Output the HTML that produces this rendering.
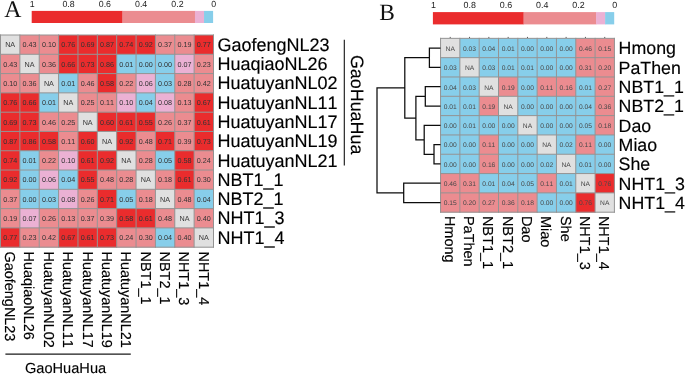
<!DOCTYPE html>
<html lang="en"><head><meta charset="utf-8"><title>Heatmaps A and B</title>
<style>
html,body{margin:0;padding:0;background:#fff}
body{width:685px;height:374px;overflow:hidden}
svg{display:block;font-family:"Liberation Sans", Arial, sans-serif;font-kerning:none;text-rendering:geometricPrecision}
</style></head><body>
<svg width="685" height="374" viewBox="0 0 685 374">
<rect width="685" height="374" fill="#fff"/>
<text x="4.3" y="17.4" font-family='"Liberation Serif", "Times New Roman", serif' font-size="23.8" fill="#111">A</text>
<rect x="31.70" y="10.9" width="91.00" height="12.1" fill="#ea2c2d"/>
<rect x="122.40" y="10.9" width="72.86" height="12.1" fill="#eb8c90"/>
<rect x="194.96" y="10.9" width="9.37" height="12.1" fill="#ebb1d4"/>
<rect x="204.03" y="10.9" width="9.07" height="12.1" fill="#87ceea"/>
<g font-size="8.8" fill="#222" text-anchor="middle">
<text x="32.30" y="6.7">1</text>
<text x="68.58" y="6.7">0.8</text>
<text x="104.86" y="6.7">0.6</text>
<text x="141.14" y="6.7">0.4</text>
<text x="177.42" y="6.7">0.2</text>
<text x="213.70" y="6.7">0</text>
</g>
<rect x="0.50" y="35.00" width="19.66" height="19.59" fill="#e0e0e0"/>
<rect x="19.86" y="35.00" width="19.66" height="19.59" fill="#eb8c90"/>
<rect x="39.23" y="35.00" width="19.66" height="19.59" fill="#eb8c90"/>
<rect x="58.59" y="35.00" width="19.66" height="19.59" fill="#ea2c2d"/>
<rect x="77.96" y="35.00" width="19.66" height="19.59" fill="#ea2c2d"/>
<rect x="97.32" y="35.00" width="19.66" height="19.59" fill="#ea2c2d"/>
<rect x="116.68" y="35.00" width="19.66" height="19.59" fill="#ea2c2d"/>
<rect x="136.05" y="35.00" width="19.66" height="19.59" fill="#ea2c2d"/>
<rect x="155.41" y="35.00" width="19.66" height="19.59" fill="#eb8c90"/>
<rect x="174.78" y="35.00" width="19.66" height="19.59" fill="#eb8c90"/>
<rect x="194.14" y="35.00" width="19.66" height="19.59" fill="#ea2c2d"/>
<rect x="0.50" y="54.29" width="19.66" height="19.59" fill="#eb8c90"/>
<rect x="19.86" y="54.29" width="19.66" height="19.59" fill="#e0e0e0"/>
<rect x="39.23" y="54.29" width="19.66" height="19.59" fill="#eb8c90"/>
<rect x="58.59" y="54.29" width="19.66" height="19.59" fill="#ea2c2d"/>
<rect x="77.96" y="54.29" width="19.66" height="19.59" fill="#ea2c2d"/>
<rect x="97.32" y="54.29" width="19.66" height="19.59" fill="#ea2c2d"/>
<rect x="116.68" y="54.29" width="19.66" height="19.59" fill="#87ceea"/>
<rect x="136.05" y="54.29" width="19.66" height="19.59" fill="#87ceea"/>
<rect x="155.41" y="54.29" width="19.66" height="19.59" fill="#87ceea"/>
<rect x="174.78" y="54.29" width="19.66" height="19.59" fill="#ebb1d4"/>
<rect x="194.14" y="54.29" width="19.66" height="19.59" fill="#eb8c90"/>
<rect x="0.50" y="73.58" width="19.66" height="19.59" fill="#eb8c90"/>
<rect x="19.86" y="73.58" width="19.66" height="19.59" fill="#eb8c90"/>
<rect x="39.23" y="73.58" width="19.66" height="19.59" fill="#e0e0e0"/>
<rect x="58.59" y="73.58" width="19.66" height="19.59" fill="#87ceea"/>
<rect x="77.96" y="73.58" width="19.66" height="19.59" fill="#eb8c90"/>
<rect x="97.32" y="73.58" width="19.66" height="19.59" fill="#ea2c2d"/>
<rect x="116.68" y="73.58" width="19.66" height="19.59" fill="#eb8c90"/>
<rect x="136.05" y="73.58" width="19.66" height="19.59" fill="#ebb1d4"/>
<rect x="155.41" y="73.58" width="19.66" height="19.59" fill="#87ceea"/>
<rect x="174.78" y="73.58" width="19.66" height="19.59" fill="#eb8c90"/>
<rect x="194.14" y="73.58" width="19.66" height="19.59" fill="#eb8c90"/>
<rect x="0.50" y="92.87" width="19.66" height="19.59" fill="#ea2c2d"/>
<rect x="19.86" y="92.87" width="19.66" height="19.59" fill="#ea2c2d"/>
<rect x="39.23" y="92.87" width="19.66" height="19.59" fill="#87ceea"/>
<rect x="58.59" y="92.87" width="19.66" height="19.59" fill="#e0e0e0"/>
<rect x="77.96" y="92.87" width="19.66" height="19.59" fill="#eb8c90"/>
<rect x="97.32" y="92.87" width="19.66" height="19.59" fill="#eb8c90"/>
<rect x="116.68" y="92.87" width="19.66" height="19.59" fill="#ebb1d4"/>
<rect x="136.05" y="92.87" width="19.66" height="19.59" fill="#87ceea"/>
<rect x="155.41" y="92.87" width="19.66" height="19.59" fill="#ebb1d4"/>
<rect x="174.78" y="92.87" width="19.66" height="19.59" fill="#eb8c90"/>
<rect x="194.14" y="92.87" width="19.66" height="19.59" fill="#ea2c2d"/>
<rect x="0.50" y="112.16" width="19.66" height="19.59" fill="#ea2c2d"/>
<rect x="19.86" y="112.16" width="19.66" height="19.59" fill="#ea2c2d"/>
<rect x="39.23" y="112.16" width="19.66" height="19.59" fill="#eb8c90"/>
<rect x="58.59" y="112.16" width="19.66" height="19.59" fill="#eb8c90"/>
<rect x="77.96" y="112.16" width="19.66" height="19.59" fill="#e0e0e0"/>
<rect x="97.32" y="112.16" width="19.66" height="19.59" fill="#ea2c2d"/>
<rect x="116.68" y="112.16" width="19.66" height="19.59" fill="#ea2c2d"/>
<rect x="136.05" y="112.16" width="19.66" height="19.59" fill="#ea2c2d"/>
<rect x="155.41" y="112.16" width="19.66" height="19.59" fill="#eb8c90"/>
<rect x="174.78" y="112.16" width="19.66" height="19.59" fill="#eb8c90"/>
<rect x="194.14" y="112.16" width="19.66" height="19.59" fill="#ea2c2d"/>
<rect x="0.50" y="131.45" width="19.66" height="19.59" fill="#ea2c2d"/>
<rect x="19.86" y="131.45" width="19.66" height="19.59" fill="#ea2c2d"/>
<rect x="39.23" y="131.45" width="19.66" height="19.59" fill="#ea2c2d"/>
<rect x="58.59" y="131.45" width="19.66" height="19.59" fill="#eb8c90"/>
<rect x="77.96" y="131.45" width="19.66" height="19.59" fill="#ea2c2d"/>
<rect x="97.32" y="131.45" width="19.66" height="19.59" fill="#e0e0e0"/>
<rect x="116.68" y="131.45" width="19.66" height="19.59" fill="#ea2c2d"/>
<rect x="136.05" y="131.45" width="19.66" height="19.59" fill="#eb8c90"/>
<rect x="155.41" y="131.45" width="19.66" height="19.59" fill="#ea2c2d"/>
<rect x="174.78" y="131.45" width="19.66" height="19.59" fill="#eb8c90"/>
<rect x="194.14" y="131.45" width="19.66" height="19.59" fill="#ea2c2d"/>
<rect x="0.50" y="150.74" width="19.66" height="19.59" fill="#ea2c2d"/>
<rect x="19.86" y="150.74" width="19.66" height="19.59" fill="#87ceea"/>
<rect x="39.23" y="150.74" width="19.66" height="19.59" fill="#eb8c90"/>
<rect x="58.59" y="150.74" width="19.66" height="19.59" fill="#ebb1d4"/>
<rect x="77.96" y="150.74" width="19.66" height="19.59" fill="#ea2c2d"/>
<rect x="97.32" y="150.74" width="19.66" height="19.59" fill="#ea2c2d"/>
<rect x="116.68" y="150.74" width="19.66" height="19.59" fill="#e0e0e0"/>
<rect x="136.05" y="150.74" width="19.66" height="19.59" fill="#eb8c90"/>
<rect x="155.41" y="150.74" width="19.66" height="19.59" fill="#87ceea"/>
<rect x="174.78" y="150.74" width="19.66" height="19.59" fill="#ea2c2d"/>
<rect x="194.14" y="150.74" width="19.66" height="19.59" fill="#eb8c90"/>
<rect x="0.50" y="170.03" width="19.66" height="19.59" fill="#ea2c2d"/>
<rect x="19.86" y="170.03" width="19.66" height="19.59" fill="#87ceea"/>
<rect x="39.23" y="170.03" width="19.66" height="19.59" fill="#ebb1d4"/>
<rect x="58.59" y="170.03" width="19.66" height="19.59" fill="#87ceea"/>
<rect x="77.96" y="170.03" width="19.66" height="19.59" fill="#ea2c2d"/>
<rect x="97.32" y="170.03" width="19.66" height="19.59" fill="#eb8c90"/>
<rect x="116.68" y="170.03" width="19.66" height="19.59" fill="#eb8c90"/>
<rect x="136.05" y="170.03" width="19.66" height="19.59" fill="#e0e0e0"/>
<rect x="155.41" y="170.03" width="19.66" height="19.59" fill="#eb8c90"/>
<rect x="174.78" y="170.03" width="19.66" height="19.59" fill="#ea2c2d"/>
<rect x="194.14" y="170.03" width="19.66" height="19.59" fill="#eb8c90"/>
<rect x="0.50" y="189.32" width="19.66" height="19.59" fill="#eb8c90"/>
<rect x="19.86" y="189.32" width="19.66" height="19.59" fill="#87ceea"/>
<rect x="39.23" y="189.32" width="19.66" height="19.59" fill="#87ceea"/>
<rect x="58.59" y="189.32" width="19.66" height="19.59" fill="#ebb1d4"/>
<rect x="77.96" y="189.32" width="19.66" height="19.59" fill="#eb8c90"/>
<rect x="97.32" y="189.32" width="19.66" height="19.59" fill="#ea2c2d"/>
<rect x="116.68" y="189.32" width="19.66" height="19.59" fill="#87ceea"/>
<rect x="136.05" y="189.32" width="19.66" height="19.59" fill="#eb8c90"/>
<rect x="155.41" y="189.32" width="19.66" height="19.59" fill="#e0e0e0"/>
<rect x="174.78" y="189.32" width="19.66" height="19.59" fill="#eb8c90"/>
<rect x="194.14" y="189.32" width="19.66" height="19.59" fill="#87ceea"/>
<rect x="0.50" y="208.61" width="19.66" height="19.59" fill="#eb8c90"/>
<rect x="19.86" y="208.61" width="19.66" height="19.59" fill="#ebb1d4"/>
<rect x="39.23" y="208.61" width="19.66" height="19.59" fill="#eb8c90"/>
<rect x="58.59" y="208.61" width="19.66" height="19.59" fill="#eb8c90"/>
<rect x="77.96" y="208.61" width="19.66" height="19.59" fill="#eb8c90"/>
<rect x="97.32" y="208.61" width="19.66" height="19.59" fill="#eb8c90"/>
<rect x="116.68" y="208.61" width="19.66" height="19.59" fill="#ea2c2d"/>
<rect x="136.05" y="208.61" width="19.66" height="19.59" fill="#ea2c2d"/>
<rect x="155.41" y="208.61" width="19.66" height="19.59" fill="#eb8c90"/>
<rect x="174.78" y="208.61" width="19.66" height="19.59" fill="#e0e0e0"/>
<rect x="194.14" y="208.61" width="19.66" height="19.59" fill="#eb8c90"/>
<rect x="0.50" y="227.90" width="19.66" height="19.59" fill="#ea2c2d"/>
<rect x="19.86" y="227.90" width="19.66" height="19.59" fill="#eb8c90"/>
<rect x="39.23" y="227.90" width="19.66" height="19.59" fill="#eb8c90"/>
<rect x="58.59" y="227.90" width="19.66" height="19.59" fill="#ea2c2d"/>
<rect x="77.96" y="227.90" width="19.66" height="19.59" fill="#ea2c2d"/>
<rect x="97.32" y="227.90" width="19.66" height="19.59" fill="#ea2c2d"/>
<rect x="116.68" y="227.90" width="19.66" height="19.59" fill="#eb8c90"/>
<rect x="136.05" y="227.90" width="19.66" height="19.59" fill="#eb8c90"/>
<rect x="155.41" y="227.90" width="19.66" height="19.59" fill="#87ceea"/>
<rect x="174.78" y="227.90" width="19.66" height="19.59" fill="#eb8c90"/>
<rect x="194.14" y="227.90" width="19.66" height="19.59" fill="#e0e0e0"/>
<path d="M0.50 34.50V247.69M0.00 35.00H214.00M19.86 34.50V247.69M0.00 54.29H214.00M39.23 34.50V247.69M0.00 73.58H214.00M58.59 34.50V247.69M0.00 92.87H214.00M77.96 34.50V247.69M0.00 112.16H214.00M97.32 34.50V247.69M0.00 131.45H214.00M116.68 34.50V247.69M0.00 150.74H214.00M136.05 34.50V247.69M0.00 170.03H214.00M155.41 34.50V247.69M0.00 189.32H214.00M174.78 34.50V247.69M0.00 208.61H214.00M194.14 34.50V247.69M0.00 227.90H214.00M213.50 34.50V247.69M0.00 247.19H214.00" fill="none" stroke="#939393" stroke-width="1.0"/>
<g font-size="7.2" fill="#343434" text-anchor="middle">
<text x="10.18" y="47.34">NA</text>
<text x="29.55" y="47.34">0.43</text>
<text x="48.91" y="47.34">0.10</text>
<text x="68.27" y="47.34">0.76</text>
<text x="87.64" y="47.34">0.69</text>
<text x="107.00" y="47.34">0.87</text>
<text x="126.37" y="47.34">0.74</text>
<text x="145.73" y="47.34">0.92</text>
<text x="165.09" y="47.34">0.37</text>
<text x="184.46" y="47.34">0.19</text>
<text x="203.82" y="47.34">0.77</text>
<text x="10.18" y="66.63">0.43</text>
<text x="29.55" y="66.63">NA</text>
<text x="48.91" y="66.63">0.36</text>
<text x="68.27" y="66.63">0.66</text>
<text x="87.64" y="66.63">0.73</text>
<text x="107.00" y="66.63">0.86</text>
<text x="126.37" y="66.63">0.01</text>
<text x="145.73" y="66.63">0.00</text>
<text x="165.09" y="66.63">0.00</text>
<text x="184.46" y="66.63">0.07</text>
<text x="203.82" y="66.63">0.23</text>
<text x="10.18" y="85.92">0.10</text>
<text x="29.55" y="85.92">0.36</text>
<text x="48.91" y="85.92">NA</text>
<text x="68.27" y="85.92">0.01</text>
<text x="87.64" y="85.92">0.46</text>
<text x="107.00" y="85.92">0.58</text>
<text x="126.37" y="85.92">0.22</text>
<text x="145.73" y="85.92">0.06</text>
<text x="165.09" y="85.92">0.03</text>
<text x="184.46" y="85.92">0.28</text>
<text x="203.82" y="85.92">0.42</text>
<text x="10.18" y="105.21">0.76</text>
<text x="29.55" y="105.21">0.66</text>
<text x="48.91" y="105.21">0.01</text>
<text x="68.27" y="105.21">NA</text>
<text x="87.64" y="105.21">0.25</text>
<text x="107.00" y="105.21">0.11</text>
<text x="126.37" y="105.21">0.10</text>
<text x="145.73" y="105.21">0.04</text>
<text x="165.09" y="105.21">0.08</text>
<text x="184.46" y="105.21">0.13</text>
<text x="203.82" y="105.21">0.67</text>
<text x="10.18" y="124.50">0.69</text>
<text x="29.55" y="124.50">0.73</text>
<text x="48.91" y="124.50">0.46</text>
<text x="68.27" y="124.50">0.25</text>
<text x="87.64" y="124.50">NA</text>
<text x="107.00" y="124.50">0.60</text>
<text x="126.37" y="124.50">0.61</text>
<text x="145.73" y="124.50">0.55</text>
<text x="165.09" y="124.50">0.26</text>
<text x="184.46" y="124.50">0.37</text>
<text x="203.82" y="124.50">0.61</text>
<text x="10.18" y="143.79">0.87</text>
<text x="29.55" y="143.79">0.86</text>
<text x="48.91" y="143.79">0.58</text>
<text x="68.27" y="143.79">0.11</text>
<text x="87.64" y="143.79">0.60</text>
<text x="107.00" y="143.79">NA</text>
<text x="126.37" y="143.79">0.92</text>
<text x="145.73" y="143.79">0.48</text>
<text x="165.09" y="143.79">0.71</text>
<text x="184.46" y="143.79">0.39</text>
<text x="203.82" y="143.79">0.73</text>
<text x="10.18" y="163.08">0.74</text>
<text x="29.55" y="163.08">0.01</text>
<text x="48.91" y="163.08">0.22</text>
<text x="68.27" y="163.08">0.10</text>
<text x="87.64" y="163.08">0.61</text>
<text x="107.00" y="163.08">0.92</text>
<text x="126.37" y="163.08">NA</text>
<text x="145.73" y="163.08">0.28</text>
<text x="165.09" y="163.08">0.05</text>
<text x="184.46" y="163.08">0.58</text>
<text x="203.82" y="163.08">0.24</text>
<text x="10.18" y="182.37">0.92</text>
<text x="29.55" y="182.37">0.00</text>
<text x="48.91" y="182.37">0.06</text>
<text x="68.27" y="182.37">0.04</text>
<text x="87.64" y="182.37">0.55</text>
<text x="107.00" y="182.37">0.48</text>
<text x="126.37" y="182.37">0.28</text>
<text x="145.73" y="182.37">NA</text>
<text x="165.09" y="182.37">0.18</text>
<text x="184.46" y="182.37">0.61</text>
<text x="203.82" y="182.37">0.30</text>
<text x="10.18" y="201.66">0.37</text>
<text x="29.55" y="201.66">0.00</text>
<text x="48.91" y="201.66">0.03</text>
<text x="68.27" y="201.66">0.08</text>
<text x="87.64" y="201.66">0.26</text>
<text x="107.00" y="201.66">0.71</text>
<text x="126.37" y="201.66">0.05</text>
<text x="145.73" y="201.66">0.18</text>
<text x="165.09" y="201.66">NA</text>
<text x="184.46" y="201.66">0.48</text>
<text x="203.82" y="201.66">0.04</text>
<text x="10.18" y="220.95">0.19</text>
<text x="29.55" y="220.95">0.07</text>
<text x="48.91" y="220.95">0.26</text>
<text x="68.27" y="220.95">0.13</text>
<text x="87.64" y="220.95">0.37</text>
<text x="107.00" y="220.95">0.39</text>
<text x="126.37" y="220.95">0.58</text>
<text x="145.73" y="220.95">0.61</text>
<text x="165.09" y="220.95">0.48</text>
<text x="184.46" y="220.95">NA</text>
<text x="203.82" y="220.95">0.40</text>
<text x="10.18" y="240.24">0.77</text>
<text x="29.55" y="240.24">0.23</text>
<text x="48.91" y="240.24">0.42</text>
<text x="68.27" y="240.24">0.67</text>
<text x="87.64" y="240.24">0.61</text>
<text x="107.00" y="240.24">0.73</text>
<text x="126.37" y="240.24">0.24</text>
<text x="145.73" y="240.24">0.30</text>
<text x="165.09" y="240.24">0.04</text>
<text x="184.46" y="240.24">0.40</text>
<text x="203.82" y="240.24">NA</text>
</g>
<g font-size="18" fill="#000" stroke="#000" stroke-width="0.15">
<text x="217.4" y="50.79">GaofengNL23</text>
<text x="217.4" y="70.09">HuaqiaoNL26</text>
<text x="217.4" y="89.38">HuatuyanNL02</text>
<text x="217.4" y="108.67">HuatuyanNL11</text>
<text x="217.4" y="127.95">HuatuyanNL17</text>
<text x="217.4" y="147.25">HuatuyanNL19</text>
<text x="217.4" y="166.53">HuatuyanNL21</text>
<text x="217.4" y="185.82">NBT1_1</text>
<text x="217.4" y="205.12">NBT2_1</text>
<text x="217.4" y="224.41">NHT1_3</text>
<text x="217.4" y="243.69">NHT1_4</text>
</g>
<g font-size="14.45" fill="#000" stroke="#000" stroke-width="0.15">
<text transform="translate(5.08 251.5) rotate(90)">GaofengNL23</text>
<text transform="translate(24.45 251.5) rotate(90)">HuaqiaoNL26</text>
<text transform="translate(43.81 251.5) rotate(90)">HuatuyanNL02</text>
<text transform="translate(63.17 251.5) rotate(90)">HuatuyanNL11</text>
<text transform="translate(82.54 251.5) rotate(90)">HuatuyanNL17</text>
<text transform="translate(101.90 251.5) rotate(90)">HuatuyanNL19</text>
<text transform="translate(121.27 251.5) rotate(90)">HuatuyanNL21</text>
<text transform="translate(140.63 251.5) rotate(90)">NBT1_1</text>
<text transform="translate(159.99 251.5) rotate(90)">NBT2_1</text>
<text transform="translate(179.36 251.5) rotate(90)">NHT1_3</text>
<text transform="translate(198.72 251.5) rotate(90)">NHT1_4</text>
</g>
<line x1="5.4" y1="354.1" x2="130.8" y2="354.1" stroke="#1a1a1a" stroke-width="1.4"/>
<text x="25" y="372.8" font-size="14.6" fill="#000" stroke="#000" stroke-width="0.12">GaoHuaHua</text>
<line x1="344.3" y1="39.8" x2="344.3" y2="165.5" stroke="#111" stroke-width="1.1"/>
<text transform="translate(350.8 54.9) rotate(90)" font-size="17.9" fill="#000" stroke="#000" stroke-width="0.15">GaoHuaHua</text>
<text x="379.3" y="19.7" font-family='"Liberation Serif", "Times New Roman", serif' font-size="23.4" fill="#111">B</text>
<rect x="432.90" y="12.1" width="90.95" height="12.299999999999999" fill="#ea2c2d"/>
<rect x="523.55" y="12.1" width="72.82" height="12.299999999999999" fill="#eb8c90"/>
<rect x="596.07" y="12.1" width="9.36" height="12.299999999999999" fill="#ebb1d4"/>
<rect x="605.13" y="12.1" width="9.07" height="12.299999999999999" fill="#87ceea"/>
<g font-size="8.9" fill="#222" text-anchor="middle">
<text x="433.50" y="7.8">1</text>
<text x="469.76" y="7.8">0.8</text>
<text x="506.02" y="7.8">0.6</text>
<text x="542.28" y="7.8">0.4</text>
<text x="578.54" y="7.8">0.2</text>
<text x="614.80" y="7.8">0</text>
</g>
<rect x="449.71" y="36.9" width="1" height="1.2" fill="#555"/>
<rect x="469.03" y="36.9" width="1" height="1.2" fill="#555"/>
<rect x="488.34" y="36.9" width="1" height="1.2" fill="#555"/>
<rect x="507.66" y="36.9" width="1" height="1.2" fill="#555"/>
<rect x="526.98" y="36.9" width="1" height="1.2" fill="#555"/>
<rect x="546.29" y="36.9" width="1" height="1.2" fill="#555"/>
<rect x="565.61" y="36.9" width="1" height="1.2" fill="#555"/>
<rect x="584.93" y="36.9" width="1" height="1.2" fill="#555"/>
<rect x="604.24" y="36.9" width="1" height="1.2" fill="#555"/>
<rect x="440.55" y="38.35" width="19.62" height="19.62" fill="#e0e0e0"/>
<rect x="459.87" y="38.35" width="19.62" height="19.62" fill="#87ceea"/>
<rect x="479.18" y="38.35" width="19.62" height="19.62" fill="#87ceea"/>
<rect x="498.50" y="38.35" width="19.62" height="19.62" fill="#87ceea"/>
<rect x="517.82" y="38.35" width="19.62" height="19.62" fill="#87ceea"/>
<rect x="537.13" y="38.35" width="19.62" height="19.62" fill="#87ceea"/>
<rect x="556.45" y="38.35" width="19.62" height="19.62" fill="#87ceea"/>
<rect x="575.77" y="38.35" width="19.62" height="19.62" fill="#eb8c90"/>
<rect x="595.09" y="38.35" width="19.62" height="19.62" fill="#eb8c90"/>
<rect x="440.55" y="57.67" width="19.62" height="19.62" fill="#87ceea"/>
<rect x="459.87" y="57.67" width="19.62" height="19.62" fill="#e0e0e0"/>
<rect x="479.18" y="57.67" width="19.62" height="19.62" fill="#87ceea"/>
<rect x="498.50" y="57.67" width="19.62" height="19.62" fill="#87ceea"/>
<rect x="517.82" y="57.67" width="19.62" height="19.62" fill="#87ceea"/>
<rect x="537.13" y="57.67" width="19.62" height="19.62" fill="#87ceea"/>
<rect x="556.45" y="57.67" width="19.62" height="19.62" fill="#87ceea"/>
<rect x="575.77" y="57.67" width="19.62" height="19.62" fill="#eb8c90"/>
<rect x="595.09" y="57.67" width="19.62" height="19.62" fill="#eb8c90"/>
<rect x="440.55" y="76.98" width="19.62" height="19.62" fill="#87ceea"/>
<rect x="459.87" y="76.98" width="19.62" height="19.62" fill="#87ceea"/>
<rect x="479.18" y="76.98" width="19.62" height="19.62" fill="#e0e0e0"/>
<rect x="498.50" y="76.98" width="19.62" height="19.62" fill="#eb8c90"/>
<rect x="517.82" y="76.98" width="19.62" height="19.62" fill="#87ceea"/>
<rect x="537.13" y="76.98" width="19.62" height="19.62" fill="#eb8c90"/>
<rect x="556.45" y="76.98" width="19.62" height="19.62" fill="#eb8c90"/>
<rect x="575.77" y="76.98" width="19.62" height="19.62" fill="#87ceea"/>
<rect x="595.09" y="76.98" width="19.62" height="19.62" fill="#eb8c90"/>
<rect x="440.55" y="96.30" width="19.62" height="19.62" fill="#87ceea"/>
<rect x="459.87" y="96.30" width="19.62" height="19.62" fill="#87ceea"/>
<rect x="479.18" y="96.30" width="19.62" height="19.62" fill="#eb8c90"/>
<rect x="498.50" y="96.30" width="19.62" height="19.62" fill="#e0e0e0"/>
<rect x="517.82" y="96.30" width="19.62" height="19.62" fill="#87ceea"/>
<rect x="537.13" y="96.30" width="19.62" height="19.62" fill="#87ceea"/>
<rect x="556.45" y="96.30" width="19.62" height="19.62" fill="#87ceea"/>
<rect x="575.77" y="96.30" width="19.62" height="19.62" fill="#87ceea"/>
<rect x="595.09" y="96.30" width="19.62" height="19.62" fill="#eb8c90"/>
<rect x="440.55" y="115.62" width="19.62" height="19.62" fill="#87ceea"/>
<rect x="459.87" y="115.62" width="19.62" height="19.62" fill="#87ceea"/>
<rect x="479.18" y="115.62" width="19.62" height="19.62" fill="#87ceea"/>
<rect x="498.50" y="115.62" width="19.62" height="19.62" fill="#87ceea"/>
<rect x="517.82" y="115.62" width="19.62" height="19.62" fill="#e0e0e0"/>
<rect x="537.13" y="115.62" width="19.62" height="19.62" fill="#87ceea"/>
<rect x="556.45" y="115.62" width="19.62" height="19.62" fill="#87ceea"/>
<rect x="575.77" y="115.62" width="19.62" height="19.62" fill="#87ceea"/>
<rect x="595.09" y="115.62" width="19.62" height="19.62" fill="#eb8c90"/>
<rect x="440.55" y="134.94" width="19.62" height="19.62" fill="#87ceea"/>
<rect x="459.87" y="134.94" width="19.62" height="19.62" fill="#87ceea"/>
<rect x="479.18" y="134.94" width="19.62" height="19.62" fill="#eb8c90"/>
<rect x="498.50" y="134.94" width="19.62" height="19.62" fill="#87ceea"/>
<rect x="517.82" y="134.94" width="19.62" height="19.62" fill="#87ceea"/>
<rect x="537.13" y="134.94" width="19.62" height="19.62" fill="#e0e0e0"/>
<rect x="556.45" y="134.94" width="19.62" height="19.62" fill="#87ceea"/>
<rect x="575.77" y="134.94" width="19.62" height="19.62" fill="#eb8c90"/>
<rect x="595.09" y="134.94" width="19.62" height="19.62" fill="#87ceea"/>
<rect x="440.55" y="154.25" width="19.62" height="19.62" fill="#87ceea"/>
<rect x="459.87" y="154.25" width="19.62" height="19.62" fill="#87ceea"/>
<rect x="479.18" y="154.25" width="19.62" height="19.62" fill="#eb8c90"/>
<rect x="498.50" y="154.25" width="19.62" height="19.62" fill="#87ceea"/>
<rect x="517.82" y="154.25" width="19.62" height="19.62" fill="#87ceea"/>
<rect x="537.13" y="154.25" width="19.62" height="19.62" fill="#87ceea"/>
<rect x="556.45" y="154.25" width="19.62" height="19.62" fill="#e0e0e0"/>
<rect x="575.77" y="154.25" width="19.62" height="19.62" fill="#87ceea"/>
<rect x="595.09" y="154.25" width="19.62" height="19.62" fill="#87ceea"/>
<rect x="440.55" y="173.57" width="19.62" height="19.62" fill="#eb8c90"/>
<rect x="459.87" y="173.57" width="19.62" height="19.62" fill="#eb8c90"/>
<rect x="479.18" y="173.57" width="19.62" height="19.62" fill="#87ceea"/>
<rect x="498.50" y="173.57" width="19.62" height="19.62" fill="#87ceea"/>
<rect x="517.82" y="173.57" width="19.62" height="19.62" fill="#87ceea"/>
<rect x="537.13" y="173.57" width="19.62" height="19.62" fill="#eb8c90"/>
<rect x="556.45" y="173.57" width="19.62" height="19.62" fill="#87ceea"/>
<rect x="575.77" y="173.57" width="19.62" height="19.62" fill="#e0e0e0"/>
<rect x="595.09" y="173.57" width="19.62" height="19.62" fill="#ea2c2d"/>
<rect x="440.55" y="192.89" width="19.62" height="19.62" fill="#eb8c90"/>
<rect x="459.87" y="192.89" width="19.62" height="19.62" fill="#eb8c90"/>
<rect x="479.18" y="192.89" width="19.62" height="19.62" fill="#eb8c90"/>
<rect x="498.50" y="192.89" width="19.62" height="19.62" fill="#eb8c90"/>
<rect x="517.82" y="192.89" width="19.62" height="19.62" fill="#eb8c90"/>
<rect x="537.13" y="192.89" width="19.62" height="19.62" fill="#87ceea"/>
<rect x="556.45" y="192.89" width="19.62" height="19.62" fill="#87ceea"/>
<rect x="575.77" y="192.89" width="19.62" height="19.62" fill="#ea2c2d"/>
<rect x="595.09" y="192.89" width="19.62" height="19.62" fill="#e0e0e0"/>
<path d="M440.55 37.85V212.70M440.05 38.35H614.90M459.87 37.85V212.70M440.05 57.67H614.90M479.18 37.85V212.70M440.05 76.98H614.90M498.50 37.85V212.70M440.05 96.30H614.90M517.82 37.85V212.70M440.05 115.62H614.90M537.13 37.85V212.70M440.05 134.94H614.90M556.45 37.85V212.70M440.05 154.25H614.90M575.77 37.85V212.70M440.05 173.57H614.90M595.09 37.85V212.70M440.05 192.89H614.90M614.40 37.85V212.70M440.05 212.20H614.90" fill="none" stroke="#939393" stroke-width="1.0"/>
<g font-size="6.7" fill="#484848" text-anchor="middle">
<text x="450.21" y="50.87">NA</text>
<text x="469.53" y="50.87">0.03</text>
<text x="488.84" y="50.87">0.04</text>
<text x="508.16" y="50.87">0.01</text>
<text x="527.48" y="50.87">0.00</text>
<text x="546.79" y="50.87">0.00</text>
<text x="566.11" y="50.87">0.00</text>
<text x="585.43" y="50.87">0.46</text>
<text x="604.74" y="50.87">0.15</text>
<text x="450.21" y="70.19">0.03</text>
<text x="469.53" y="70.19">NA</text>
<text x="488.84" y="70.19">0.03</text>
<text x="508.16" y="70.19">0.01</text>
<text x="527.48" y="70.19">0.01</text>
<text x="546.79" y="70.19">0.00</text>
<text x="566.11" y="70.19">0.00</text>
<text x="585.43" y="70.19">0.31</text>
<text x="604.74" y="70.19">0.20</text>
<text x="450.21" y="89.50">0.04</text>
<text x="469.53" y="89.50">0.03</text>
<text x="488.84" y="89.50">NA</text>
<text x="508.16" y="89.50">0.19</text>
<text x="527.48" y="89.50">0.00</text>
<text x="546.79" y="89.50">0.11</text>
<text x="566.11" y="89.50">0.16</text>
<text x="585.43" y="89.50">0.01</text>
<text x="604.74" y="89.50">0.27</text>
<text x="450.21" y="108.82">0.01</text>
<text x="469.53" y="108.82">0.01</text>
<text x="488.84" y="108.82">0.19</text>
<text x="508.16" y="108.82">NA</text>
<text x="527.48" y="108.82">0.00</text>
<text x="546.79" y="108.82">0.00</text>
<text x="566.11" y="108.82">0.00</text>
<text x="585.43" y="108.82">0.04</text>
<text x="604.74" y="108.82">0.36</text>
<text x="450.21" y="128.14">0.00</text>
<text x="469.53" y="128.14">0.01</text>
<text x="488.84" y="128.14">0.00</text>
<text x="508.16" y="128.14">0.00</text>
<text x="527.48" y="128.14">NA</text>
<text x="546.79" y="128.14">0.00</text>
<text x="566.11" y="128.14">0.00</text>
<text x="585.43" y="128.14">0.05</text>
<text x="604.74" y="128.14">0.18</text>
<text x="450.21" y="147.46">0.00</text>
<text x="469.53" y="147.46">0.00</text>
<text x="488.84" y="147.46">0.11</text>
<text x="508.16" y="147.46">0.00</text>
<text x="527.48" y="147.46">0.00</text>
<text x="546.79" y="147.46">NA</text>
<text x="566.11" y="147.46">0.02</text>
<text x="585.43" y="147.46">0.11</text>
<text x="604.74" y="147.46">0.00</text>
<text x="450.21" y="166.77">0.00</text>
<text x="469.53" y="166.77">0.00</text>
<text x="488.84" y="166.77">0.16</text>
<text x="508.16" y="166.77">0.00</text>
<text x="527.48" y="166.77">0.00</text>
<text x="546.79" y="166.77">0.02</text>
<text x="566.11" y="166.77">NA</text>
<text x="585.43" y="166.77">0.01</text>
<text x="604.74" y="166.77">0.00</text>
<text x="450.21" y="186.09">0.46</text>
<text x="469.53" y="186.09">0.31</text>
<text x="488.84" y="186.09">0.01</text>
<text x="508.16" y="186.09">0.04</text>
<text x="527.48" y="186.09">0.05</text>
<text x="546.79" y="186.09">0.11</text>
<text x="566.11" y="186.09">0.01</text>
<text x="585.43" y="186.09">NA</text>
<text x="604.74" y="186.09">0.76</text>
<text x="450.21" y="205.41">0.15</text>
<text x="469.53" y="205.41">0.20</text>
<text x="488.84" y="205.41">0.27</text>
<text x="508.16" y="205.41">0.36</text>
<text x="527.48" y="205.41">0.18</text>
<text x="546.79" y="205.41">0.00</text>
<text x="566.11" y="205.41">0.00</text>
<text x="585.43" y="205.41">0.76</text>
<text x="604.74" y="205.41">NA</text>
</g>
<g font-size="17.8" fill="#000" stroke="#000" stroke-width="0.15">
<text x="618.6" y="54.31">Hmong</text>
<text x="618.6" y="73.63">PaThen</text>
<text x="618.6" y="92.94">NBT1_1</text>
<text x="618.6" y="112.26">NBT2_1</text>
<text x="618.6" y="131.58">Dao</text>
<text x="618.6" y="150.89">Miao</text>
<text x="618.6" y="170.21">She</text>
<text x="618.6" y="189.53">NHT1_3</text>
<text x="618.6" y="208.84">NHT1_4</text>
</g>
<g font-size="14.5" fill="#000" stroke="#000" stroke-width="0.15">
<text transform="translate(444.81 215.9) rotate(90)">Hmong</text>
<text transform="translate(464.13 215.9) rotate(90)">PaThen</text>
<text transform="translate(483.44 215.9) rotate(90)">NBT1_1</text>
<text transform="translate(502.76 215.9) rotate(90)">NBT2_1</text>
<text transform="translate(522.08 215.9) rotate(90)">Dao</text>
<text transform="translate(541.39 215.9) rotate(90)">Miao</text>
<text transform="translate(560.71 215.9) rotate(90)">She</text>
<text transform="translate(580.03 215.9) rotate(90)">NHT1_3</text>
<text transform="translate(599.34 215.9) rotate(90)">NHT1_4</text>
</g>
<path d="M429.4 48.0H439.9M429.4 67.3H439.9M429.4 48.0V67.3M404.8 57.7H429.4M425.3 86.6H439.9M425.3 106.0H439.9M425.3 86.6V106.0M415.9 96.3H425.3M434.0 144.6H439.9M434.0 163.9H439.9M434.0 144.6V163.9M424.2 154.3H434.0M424.2 125.3H439.9M424.2 125.3V154.3M415.9 139.8H424.2M415.9 96.3V139.8M404.8 118.0H415.9M404.8 57.7V118.0M377.0 87.8H404.8M403.7 183.2H439.9M403.7 202.5H439.9M403.7 183.2V202.5M377.0 192.9H403.7M377.0 87.8V192.9" fill="none" stroke="#0c0c0c" stroke-width="1.25" stroke-linecap="square"/>
</svg>
</body></html>
